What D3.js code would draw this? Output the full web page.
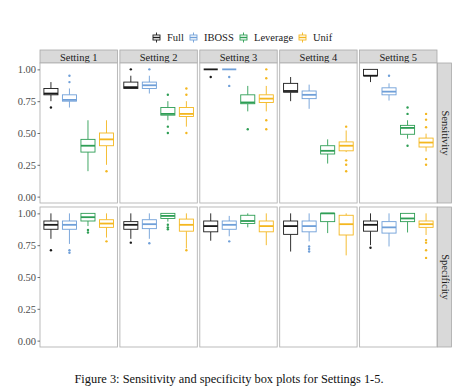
<!DOCTYPE html>
<html><head><meta charset="utf-8">
<script src="https://cdn.jsdelivr.net/npm/d3@7"></script>
<style>body{margin:0;background:#fff}svg{display:block}</style>
</head><body>
<script>
// ---- data ----
const settings = ["Setting 1","Setting 2","Setting 3","Setting 4","Setting 5"];
const methods = ["Full","IBOSS","Leverage","Unif"];
const metrics = ["Sensitivity","Specificity"];
const colors = ["#1a1a1a","#6f9fd8","#2e9e55","#f4b71f"];
const tickValues = [0,0.25,0.5,0.75,1];
// box stats per setting per method: [lowWhisker, q1, median, q3, highWhisker]
const sensStats = [
  [[0.75,0.80,0.81,0.85,0.90],[0.70,0.75,0.76,0.80,0.85],[0.20,0.35,0.40,0.45,0.60],[0.25,0.40,0.45,0.50,0.60]],
  [[0.85,0.85,0.86,0.90,0.95],[0.81,0.85,0.875,0.90,0.95],[0.60,0.64,0.65,0.70,0.75],[0.55,0.63,0.65,0.70,0.75]],
  [[1,1,1,1,1],[1,1,1,1,1],[0.67,0.73,0.74,0.80,0.87],[0.67,0.74,0.77,0.80,0.87]],
  [[0.75,0.82,0.83,0.89,0.94],[0.69,0.77,0.80,0.83,0.88],[0.26,0.335,0.36,0.40,0.45],[0.35,0.36,0.40,0.43,0.52]],
  [[0.90,0.95,0.95,1.00,1.00],[0.755,0.80,0.825,0.855,0.89],[0.455,0.49,0.54,0.56,0.60],[0.355,0.39,0.425,0.46,0.495]]
];
const sensOutliers = [
  [[0.70],[0.90,0.95],[],[0.20]],
  [[1.00],[1.00],[0.80,0.55,0.50],[0.85,0.80,0.50]],
  [[0.94],[0.94,0.87],[0.53],[1.00,0.93,0.60,0.53]],
  [[],[],[],[0.55,0.285,0.25,0.20]],
  [[],[0.95],[0.70,0.65,0.40],[0.65,0.605,0.545,0.295,0.25]]
];
const specStats = [
  [[0.80,0.875,0.91,0.94,1.00],[0.76,0.875,0.91,0.94,1.00],[0.90,0.94,0.97,1.00,1.00],[0.81,0.89,0.92,0.95,1.00]],
  [[0.80,0.875,0.91,0.935,1.00],[0.80,0.88,0.915,0.95,1.00],[0.935,0.96,0.98,1.00,1.00],[0.725,0.86,0.91,0.955,1.00]],
  [[0.785,0.855,0.90,0.94,1.00],[0.82,0.875,0.91,0.94,0.98],[0.89,0.92,0.94,0.985,1.00],[0.75,0.855,0.90,0.94,1.00]],
  [[0.70,0.835,0.90,0.94,1.00],[0.78,0.855,0.90,0.94,1.00],[0.845,0.935,1.00,1.00,1.00],[0.67,0.83,0.915,0.985,1.00]],
  [[0.75,0.86,0.91,0.94,1.00],[0.74,0.845,0.89,0.935,1.00],[0.85,0.935,0.96,1.00,1.00],[0.83,0.89,0.915,0.94,1.00]]
];
const specOutliers = [
  [[0.71],[0.71,0.69],[0.87,0.85],[0.78]],
  [[0.77],[0.765],[0.91,0.89,0.875],[0.71]],
  [[],[0.78],[],[]],
  [[],[0.74,0.72,0.70],[],[]],
  [[0.73],[],[],[0.79,0.77,0.71,0.65]]
];
const caption = "Figure 3: Sensitivity and specificity box plots for Settings 1-5.";

// ---- drawing ----
const W = 474, H = 392;
const serif = "'Liberation Serif','Times New Roman',serif";
const svg = d3.select("body").append("svg").attr("width", W).attr("height", H);

const xPanel = d3.scaleBand().domain(settings).range([40, 437]).paddingInner(0.031).paddingOuter(0);
const xMethod = d3.scaleBand().domain(methods).range([0, xPanel.bandwidth()]).paddingInner(0.24).paddingOuter(0.21);
const color = d3.scaleOrdinal().domain(methods).range(colors);
const rows = [
  {metric: metrics[0], stats: sensStats, outs: sensOutliers, y: d3.scaleLinear().domain([-0.05,1.05]).range([203,63])},
  {metric: metrics[1], stats: specStats, outs: specOutliers, y: d3.scaleLinear().domain([-0.05,1.05]).range([347,207])}
];

// strips top
settings.forEach(s => {
  svg.append("rect").attr("x", xPanel(s)).attr("y", 50).attr("width", xPanel.bandwidth()).attr("height", 13)
    .attr("fill", "#d9d9d9").attr("stroke", "#a8a8a8").attr("stroke-width", 0.8);
  svg.append("text").attr("x", xPanel(s) + xPanel.bandwidth()/2).attr("y", 60.5)
    .attr("text-anchor", "middle").attr("font-family", serif).attr("font-size", 10.5).attr("fill", "#1a1a1a").text(s);
});

rows.forEach(r => {
  const [y0, y1] = r.y.range();
  // right strip
  svg.append("rect").attr("x", 437.5).attr("y", y1).attr("width", 14).attr("height", y0 - y1)
    .attr("fill", "#d9d9d9").attr("stroke", "#a8a8a8").attr("stroke-width", 0.8);
  svg.append("text").attr("transform", `translate(${441.5},${(y0+y1)/2}) rotate(90)`)
    .attr("text-anchor", "middle").attr("font-family", serif).attr("font-size", 10.5).attr("fill", "#1a1a1a").text(r.metric);

  settings.forEach((s, si) => {
    const px = xPanel(s);
    const g = svg.append("g").attr("transform", `translate(${px},0)`);
    g.append("rect").attr("x", 0).attr("y", y1).attr("width", xPanel.bandwidth()).attr("height", y0 - y1)
      .attr("fill", "#fff").attr("stroke", "#b3b3b3").attr("stroke-width", 0.9);
    methods.forEach((m, mi) => {
      const [lo, q1, med, q3, hi] = r.stats[si][mi];
      const bx = xMethod(m), bw = xMethod.bandwidth(), cx = bx + bw/2;
      const c = color(m);
      g.append("line").attr("x1", cx).attr("x2", cx).attr("y1", r.y(hi)).attr("y2", r.y(q3)).attr("stroke", c).attr("stroke-width", 0.9);
      g.append("line").attr("x1", cx).attr("x2", cx).attr("y1", r.y(q1)).attr("y2", r.y(lo)).attr("stroke", c).attr("stroke-width", 0.9);
      g.append("rect").attr("x", bx).attr("y", r.y(q3)).attr("width", bw).attr("height", Math.max(0, r.y(q1) - r.y(q3)))
        .attr("fill", "#fff").attr("stroke", c).attr("stroke-width", 0.9);
      g.append("line").attr("x1", bx).attr("x2", bx + bw).attr("y1", r.y(med)).attr("y2", r.y(med)).attr("stroke", c).attr("stroke-width", 1.8);
      g.selectAll(null).data(r.outs[si][mi]).join("circle")
        .attr("cx", cx).attr("cy", d => r.y(d)).attr("r", 1.2).attr("fill", c);
    });
  });

  // y axis
  const ax = svg.append("g").attr("transform", "translate(40,0)")
    .call(d3.axisLeft(r.y).tickValues(tickValues).tickFormat(d3.format(".2f")).tickSize(2.5).tickPadding(1.5));
  ax.attr("font-family", serif);
  ax.select(".domain").remove();
  ax.selectAll("line").attr("stroke", "#4d4d4d").attr("stroke-width", 0.8);
  ax.selectAll("text").attr("font-family", serif).attr("font-size", 10.5).attr("fill", "#4d4d4d");
});

// legend
const legX = [153, 190, 240, 299];
const legTextX = [167, 204, 254, 313];
methods.forEach((m, i) => {
  const c = color(m), x = legX[i], cy = 37.5;
  const lg = svg.append("g");
  lg.append("line").attr("x1", x+3.5).attr("x2", x+3.5).attr("y1", cy-5).attr("y2", cy+5).attr("stroke", c).attr("stroke-width", 0.9);
  lg.append("rect").attr("x", x).attr("y", cy-2.5).attr("width", 7).attr("height", 5).attr("fill", "#fff").attr("stroke", c).attr("stroke-width", 0.9);
  lg.append("line").attr("x1", x).attr("x2", x+7).attr("y1", cy).attr("y2", cy).attr("stroke", c).attr("stroke-width", 1.4);
  lg.append("text").attr("x", legTextX[i]).attr("y", cy + 3.5).attr("font-family", serif).attr("font-size", 10.5).attr("fill", "#1a1a1a").text(m);
});

// caption
svg.append("text").attr("x", 229).attr("y", 383).attr("text-anchor", "middle")
  .attr("font-family", serif).attr("font-size", 12.4).attr("fill", "#111").text(caption);
</script>
</body></html>
